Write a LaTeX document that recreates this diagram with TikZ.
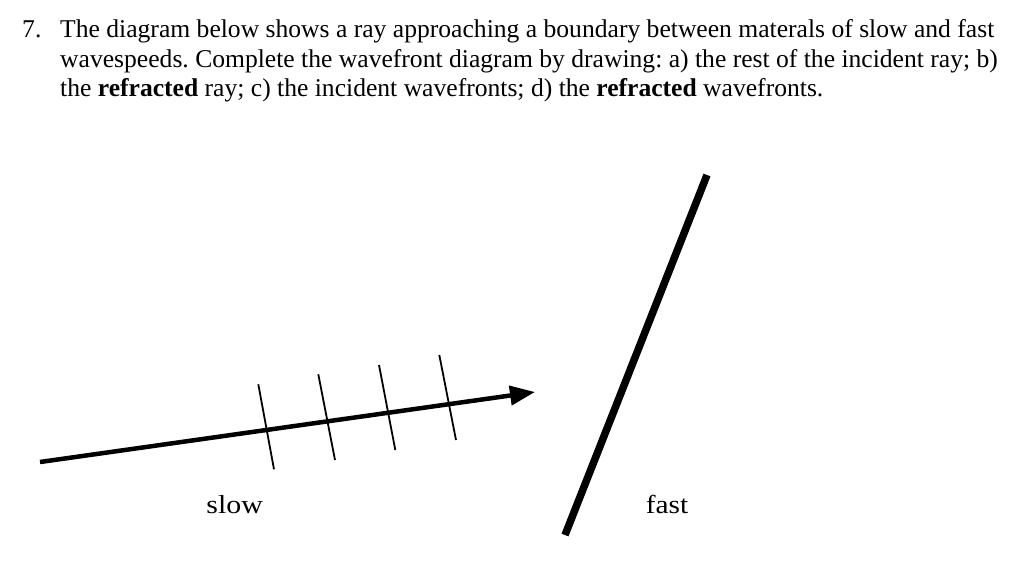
\documentclass[tikz,border=0pt]{standalone}
\usepackage{fontspec}
\setmainfont{Liberation Serif}
\usetikzlibrary{arrows.meta}
\begin{document}
\frenchspacing
\begin{tikzpicture}[x=1pt,y=-1pt,
  txt/.style={inner sep=0pt,anchor=base west,font=\fontsize{25.6}{29}\selectfont},
  lbl/.style={inner sep=0pt,anchor=base,font=\fontsize{26}{29}\selectfont},
  ray/.style={line width=4.5pt,-{Triangle[length=25pt,width=19pt]}},
  front/.style={line width=1.8pt},
  bound/.style={line width=7.5pt}]
\useasboundingbox (0,0) rectangle (1024,571);
\node[txt] (n7) at (22,37) {7.};
\node[txt] (l1) at (60,37) {The diagram below shows a ray approaching a boundary between materals of slow and fast};
\node[txt] (l2) at (60,67) {wavespeeds. Complete the wavefront diagram by drawing: a) the rest of the incident ray; b)};
\node[txt] (l3) at (60,96) {the \textbf{refracted} ray; c) the incident wavefronts; d) the \textbf{refracted} wavefronts.};
\coordinate (rs) at (40,462);
\coordinate (re) at (535,392);
\draw[ray] (rs) -- (re);
\coordinate (w1a) at (258.3,384.3); \coordinate (w1b) at (274,469.3);
\coordinate (w2a) at (318.3,374.3); \coordinate (w2b) at (335,460);
\coordinate (w3a) at (379,365);   \coordinate (w3b) at (395.3,450);
\coordinate (w4a) at (439.3,355); \coordinate (w4b) at (456,440);
\draw[front] (w1a) -- (w1b);
\draw[front] (w2a) -- (w2b);
\draw[front] (w3a) -- (w3b);
\draw[front] (w4a) -- (w4b);
\coordinate (bt) at (707,175);
\coordinate (bb) at (565,535);
\draw[bound] (bt) -- (bb);
\node[lbl] (slow) at (234.7,513) {\scalebox{1.15}[1]{slow}};
\node[lbl] (fast) at (667,513) {\scalebox{1.13}[1]{fast}};
\end{tikzpicture}
\end{document}
